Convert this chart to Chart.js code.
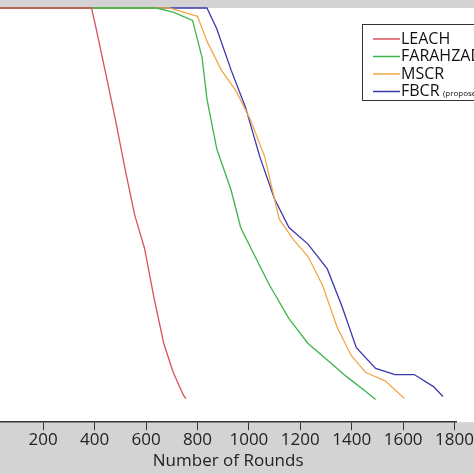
<!DOCTYPE html>
<html><head><meta charset="utf-8">
<script src="https://cdn.jsdelivr.net/npm/chart.js@4"></script>
<style>html,body{margin:0;padding:0;background:#fff}#wrap{width:474px;height:474px}</style>
</head><body><div id="wrap"><canvas id="c"></canvas></div>
<script>
// rounds vs alive nodes
const seriesNames = ["LEACH", "FARAHZAD", "MSCR", "FBCR"];
const seriesColors = ["#d9505f", "#3cb54a", "#f0a84a", "#3a3aad"];
const leachX = [0, 388, 407, 444, 481, 519, 556, 594, 631, 669, 706, 744, 755];
const leachY = [100, 100, 94.7, 84, 73, 61, 50, 42, 30, 19, 12, 6.7, 5.7];
const farahX = [0, 640, 706, 781, 818, 837, 875, 931, 968, 1024, 1081, 1156, 1230, 1305, 1380, 1455, 1493];
const farahY = [100, 100, 99, 97, 88, 78, 66, 56, 47, 40, 33, 25, 19, 15, 11, 7.4, 5.5];
const mscrX = [0, 690, 744, 800, 837, 893, 950, 1006, 1062, 1118, 1174, 1230, 1287, 1343, 1399, 1455, 1530, 1605];
const mscrY = [100, 100, 99, 98, 92, 85, 80, 73, 64, 49, 44, 40, 33, 23, 16, 12, 10, 5.7];
const fbcrX = [0, 837, 875, 931, 987, 1043, 1099, 1156, 1230, 1305, 1362, 1418, 1493, 1568, 1643, 1718, 1755];
const fbcrY = [100, 100, 95, 85, 76, 64, 54, 47, 43, 37, 28, 18, 13, 11.5, 11.5, 8.6, 6.2];
const tickRounds = [200, 400, 600, 800, 1000, 1200, 1400, 1600, 1800];

const xs = [leachX, farahX, mscrX, fbcrX];
const ys = [leachY, farahY, mscrY, fbcrY];

const frame = {
    id: "frame",
    beforeDraw(chart) {
        const { ctx, chartArea } = chart;
        ctx.save();
        ctx.fillStyle = "#d3d3d3";
        ctx.fillRect(0, chartArea.bottom, chart.width, chart.height - chartArea.bottom);
        ctx.fillRect(0, 0, chart.width, chartArea.top);
        ctx.restore();
    },
    afterDraw(chart) {
        const { ctx } = chart;
        ctx.save();
        ctx.fillStyle = "#fff";
        ctx.fillRect(362, 24, 120, 77);
        ctx.strokeStyle = "#333";
        ctx.lineWidth = 1;
        ctx.strokeRect(362.5, 24.5, 120, 76);
        ctx.textBaseline = "middle";
        seriesNames.forEach((n, i) => {
            const y = 39 + i * 17.5;
            ctx.strokeStyle = seriesColors[i];
            ctx.lineWidth = 1.5;
            ctx.beginPath(); ctx.moveTo(373, y); ctx.lineTo(400, y); ctx.stroke();
            ctx.fillStyle = "#111";
            ctx.font = "16px 'Open Sans', sans-serif";
            ctx.fillText(n, 401, y);
            if (i === 3) {
                ctx.font = "8px 'Open Sans', sans-serif";
                ctx.fillText("(proposed)", 443, y + 2);
            }
        });
        ctx.restore();
    }
};

new Chart(document.getElementById("c"), {
    type: "line",
    data: {
        datasets: seriesNames.map((n, i) => ({
            label: n,
            data: xs[i].map((x, j) => ({ x: x, y: ys[i][j] })),
            borderColor: seriesColors[i],
            borderWidth: 1.3,
            pointRadius: 0,
            tension: 0,
            clip: false,
        })),
    },
    options: {
        responsive: true,
        maintainAspectRatio: false,
        animation: false,
        layout: { padding: { top: 8, left: 0, right: 0, bottom: 0 } },
        plugins: { legend: { display: false }, tooltip: { enabled: false } },
        scales: {
            x: {
                type: "linear",
                min: 32,
                max: 1807,
                afterBuildTicks: (axis) => { axis.ticks = tickRounds.map(v => ({ value: v })); },
                grid: { drawOnChartArea: false, color: "#333", tickLength: 8 },
                border: { color: "#333", width: 1.5 },
                ticks: { color: "#222", callback: (v) => String(v), font: { size: 17, family: "'Open Sans', sans-serif" }, padding: 0, maxRotation: 0, autoSkip: false },
                title: { display: true, text: "Number of Rounds", color: "#222", font: { size: 17, family: "'Open Sans', sans-serif" }, padding: { top: 0, bottom: 3 } },
            },
            y: { display: false, min: 0, max: 100 },
        },
    },
    plugins: [frame],
});
</script></body></html>
